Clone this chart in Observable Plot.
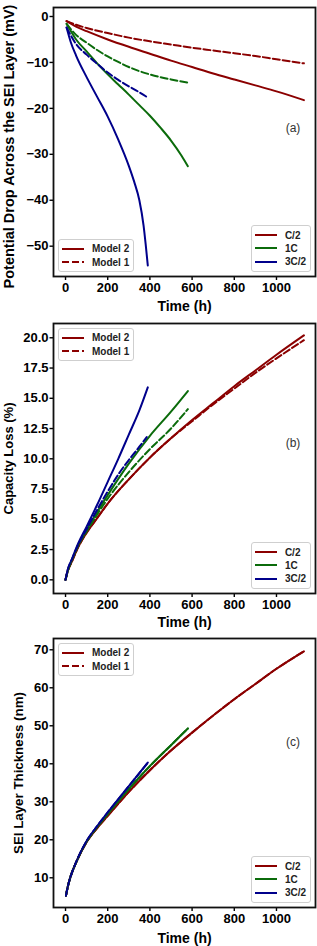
<!DOCTYPE html>
<html>
<head>
<meta charset="utf-8">
<script src="https://cdn.jsdelivr.net/npm/d3@7"></script>
<script src="https://cdn.jsdelivr.net/npm/@observablehq/plot@0.6"></script>
<style>
  html, body { margin: 0; padding: 0; background: #fff; overflow: hidden; }
  #chart { width: 317px; }
  .panel { position: relative; width: 317px; }
  .panel svg { display: block; }
  g[aria-label="x-axis label"] { font-size: 14px; }
  .p1 g[aria-label="y-axis label"] { font-size: 13px; }
  .p2 g[aria-label="y-axis label"] { font-size: 13.3px; }
  .legend { position: absolute; border: 1px solid #cfcfcf; border-radius: 3px; background: rgba(255,255,255,0.85);
            padding: 2px 4px 2px 3px; font: bold 10px "Liberation Sans", Arial, sans-serif; color: #222; }
  .legend .row { display: flex; align-items: center; height: 13.4px; white-space: nowrap; }
  .legend svg { display: block; margin-right: 8px; }
  .tag { position: absolute; transform: translate(-50%, -50%); font: 12px "Liberation Sans", Arial, sans-serif; color: #333; }
</style>
</head>
<body>
<div id="chart"></div>
<script>
// ---- categories, labels, ticks ----
const rates = ["C/2", "1C", "3C/2"];
const rateColors = ["#8b0000", "#0b6b0b", "#00008b"];
const models = ["Model 2", "Model 1"];
const panelTags = ["(a)", "(b)", "(c)"];
const xLabel = "Time (h)";
const yLabels = ["Potential Drop Across the SEI Layer (mV)", "Capacity Loss (%)", "SEI Layer Thickness (nm)"];
const xTicks = [0, 200, 400, 600, 800, 1000];
const yTicksA = [0, -10, -20, -30, -40, -50];
const yTicksB = [0, 2.5, 5, 7.5, 10, 12.5, 15, 17.5, 20];
const yTicksC = [10, 20, 30, 40, 50, 60, 70];

// ---- (a) potential drop across the SEI layer, mV : [time h, value] ----
const potC2Model2 = [[5,-1.0],[50,-2.2],[100,-3.2],[200,-5.0],[300,-6.6],[400,-8.1],[500,-9.6],[600,-11.0],[700,-12.4],[800,-13.7],[900,-15.0],[1000,-16.3],[1130,-18.2]];
const potC2Model1 = [[5,-1.0],[50,-1.8],[100,-2.5],[200,-3.6],[300,-4.6],[400,-5.4],[500,-6.1],[600,-6.8],[700,-7.4],[800,-8.0],[900,-8.6],[1000,-9.3],[1130,-10.2]];
const pot1CModel2 = [[5,-1.6],[50,-5.0],[100,-7.6],[150,-10.2],[200,-12.6],[250,-14.8],[300,-17.0],[350,-19.3],[400,-21.6],[450,-24.2],[500,-27.0],[550,-30.3],[580,-32.6]];
const pot1CModel1 = [[5,-1.6],[50,-4.0],[100,-5.7],[150,-7.3],[200,-8.7],[250,-9.9],[300,-11.0],[350,-11.9],[400,-12.6],[450,-13.2],[500,-13.7],[580,-14.4]];
const pot3C2Model2 = [[5,-2.4],[25,-5.6],[50,-8.5],[100,-13.2],[150,-17.5],[200,-21.8],[250,-26.8],[300,-32.5],[325,-35.9],[350,-40.0],[370,-45.5],[380,-49.6],[390,-54.2]];
const pot3C2Model1 = [[5,-2.4],[50,-6.0],[100,-8.3],[150,-10.3],[200,-12.2],[250,-13.8],[300,-15.2],[350,-16.5],[385,-17.5]];

// ---- (b) capacity loss, % ----
const capC2Model2 = [[0,0],[10,0.7],[30,1.5],[60,2.7],[100,3.9],[150,5.1],[200,6.3],[300,8.3],[400,10.1],[500,11.7],[600,13.2],[700,14.6],[800,16.0],[900,17.3],[1000,18.6],[1130,20.2]];
const capC2Model1 = [[0,0],[10,0.7],[30,1.5],[60,2.7],[100,3.9],[150,5.1],[200,6.3],[300,8.3],[400,10.1],[500,11.7],[600,13.1],[700,14.5],[800,15.8],[900,17.1],[1000,18.3],[1130,19.8]];
const cap1CModel2 = [[0,0],[10,0.7],[30,1.6],[60,2.8],[100,4.1],[150,5.6],[200,7.0],[300,9.6],[400,11.9],[500,13.9],[580,15.6]];
const cap1CModel1 = [[0,0],[10,0.7],[30,1.6],[60,2.8],[100,4.0],[150,5.4],[200,6.7],[300,8.9],[400,10.8],[500,12.5],[580,14.1]];
const cap3C2Model2 = [[0,0],[10,0.8],[30,1.7],[60,3.0],[100,4.4],[150,6.2],[200,8.1],[250,10.0],[300,12.0],[350,14.0],[390,15.9]];
const cap3C2Model1 = [[0,0],[10,0.8],[30,1.7],[60,2.9],[100,4.2],[150,5.8],[200,7.3],[250,8.7],[300,9.9],[350,11.0],[385,11.8]];

// ---- (c) SEI layer thickness, nm (Model 1 coincides with Model 2) ----
const thickC2Model2 = [[2,5.3],[10,7.5],[25,10.5],[50,14.0],[100,19.4],[150,23.1],[200,26.3],[300,32.6],[400,38.3],[500,43.5],[600,48.2],[700,52.7],[800,57.0],[900,61.0],[1000,65.0],[1130,69.6]];
const thick1CModel2 = [[2,5.3],[10,7.5],[25,10.5],[50,14.0],[100,19.5],[150,23.3],[200,26.7],[300,33.3],[400,39.4],[500,44.9],[580,49.3]];
const thick3C2Model2 = [[2,5.3],[10,7.5],[25,10.5],[50,14.1],[100,19.7],[150,23.6],[200,27.2],[300,34.1],[390,40.3]];
const thickC2Model1 = thickC2Model2;
const thick1CModel1 = thick1CModel2;
const thick3C2Model1 = thick3C2Model2;

function toRows(list) {
  return list.flatMap(([rate, model, pts]) => pts.map(([t, v]) => ({rate, model, t, v})));
}

const panels = [
  {
    series: [[rates[0], models[0], potC2Model2], [rates[1], models[0], pot1CModel2], [rates[2], models[0], pot3C2Model2],
             [rates[0], models[1], potC2Model1], [rates[1], models[1], pot1CModel1], [rates[2], models[1], pot3C2Model1]],
    yDomain: [-56.6, 1.96], yTicks: yTicksA, fmt: d3.format("d"),
    h: 314, mt: 7, mb: 38, labelOffset: 50, customYLabel: {fontSize: 14.5, dy: 4.5}, modelLegendTop: false, tagY: 0.45
  },
  {
    series: [[rates[0], models[0], capC2Model2], [rates[1], models[0], cap1CModel2], [rates[2], models[0], cap3C2Model2],
             [rates[0], models[1], capC2Model1], [rates[1], models[1], cap1CModel1], [rates[2], models[1], cap3C2Model1]],
    yDomain: [-1.13, 21.18], yTicks: yTicksB, fmt: d3.format(".1f"),
    h: 316, mt: 9, mb: 37, labelOffset: 50, customYLabel: null, modelLegendTop: true, tagY: 0.444
  },
  {
    series: [[rates[0], models[0], thickC2Model2], [rates[1], models[0], thick1CModel2], [rates[2], models[0], thick3C2Model2],
             [rates[0], models[1], thickC2Model1], [rates[1], models[1], thick1CModel1], [rates[2], models[1], thick3C2Model1]],
    yDomain: [2.18, 72.97], yTicks: yTicksC, fmt: d3.format("d"),
    h: 316, mt: 8, mb: 39, labelOffset: 40, customYLabel: null, modelLegendTop: true, tagY: 0.387
  }
];

const W = 317, ML = 53, MR = 2;
const DASH = "7,3";
const chart = document.getElementById("chart");

function legendBox(items, style) {
  const box = document.createElement("div");
  box.className = "legend";
  Object.assign(box.style, style);
  for (const it of items) {
    const row = document.createElement("div");
    row.className = "row";
    row.innerHTML = `<svg width="22" height="6"><line x1="0" x2="22" y1="3" y2="3" stroke="${it.color}" stroke-width="2"${it.dash ? ` stroke-dasharray="${it.dash}"` : ""}/></svg><span>${it.label}</span>`;
    box.appendChild(row);
  }
  return box;
}

panels.forEach((p, i) => {
  const rows = toRows(p.series);
  const solid = rows.filter(d => d.model === models[0]);
  const dashed = rows.filter(d => d.model === models[1]);
  const marks = [
    Plot.line(solid, {x: "t", y: "v", z: "rate", stroke: "rate", strokeWidth: 2, curve: "monotone-x"}),
    Plot.line(dashed, {x: "t", y: "v", z: "rate", stroke: "rate", strokeWidth: 2, strokeDasharray: DASH, curve: "monotone-x"}),
    Plot.axisX({ticks: xTicks, tickFormat: d3.format("d"), tickSize: 4, tickPadding: 2.5, strokeWidth: 1.4, label: xLabel, labelArrow: "none", labelAnchor: "center", labelOffset: p.mb - 4}),
    Plot.axisY({ticks: p.yTicks, tickFormat: p.fmt, tickSize: 3.5, tickPadding: 1.5, strokeWidth: 1.4,
                label: p.customYLabel ? null : yLabels[i], labelArrow: "none", labelAnchor: "center", labelOffset: p.labelOffset}),
    Plot.frame({stroke: "#111", strokeWidth: 1.8})
  ];
  if (p.customYLabel) {
    marks.push(Plot.text([yLabels[i]], {text: d => d, frameAnchor: "left", textAnchor: "middle", rotate: -90, lineAnchor: "top",
      dx: -p.labelOffset, dy: p.customYLabel.dy, fontSize: p.customYLabel.fontSize, fontWeight: "bold", fill: "#000"}));
  }
  const svg = Plot.plot({
    width: W, height: p.h,
    marginLeft: ML, marginRight: MR, marginTop: p.mt, marginBottom: p.mb,
    style: {fontFamily: '"Liberation Sans", Arial, sans-serif', fontWeight: "bold", fontSize: "13px", color: "#000", background: "#fff"},
    x: {domain: [-57, 1185]},
    y: {domain: p.yDomain},
    color: {domain: rates, range: rateColors},
    marks
  });
  const div = document.createElement("div");
  div.className = "panel p" + i;
  div.style.height = p.h + "px";
  div.appendChild(svg);

  const modelItems = models.map((m, j) => ({label: m, color: rateColors[0], dash: j === 1 ? DASH : null}));
  const rateItems = rates.map((r, j) => ({label: r, color: rateColors[j]}));
  const mStyle = p.modelLegendTop ? {left: (ML + 5) + "px", top: (p.mt + 5) + "px"} : {left: (ML + 5) + "px", bottom: (p.mb + 4) + "px"};
  div.appendChild(legendBox(modelItems, mStyle));
  div.appendChild(legendBox(rateItems, {right: (MR + 4) + "px", bottom: (p.mb + 4.5) + "px"}));

  const fw = W - ML - MR, fh = p.h - p.mt - p.mb;
  const tag = document.createElement("div");
  tag.className = "tag";
  tag.textContent = panelTags[i];
  tag.style.left = (ML + 0.916 * fw) + "px";
  tag.style.top = (p.mt + p.tagY * fh) + "px";
  div.appendChild(tag);

  chart.appendChild(div);
});
</script>
</body>
</html>
